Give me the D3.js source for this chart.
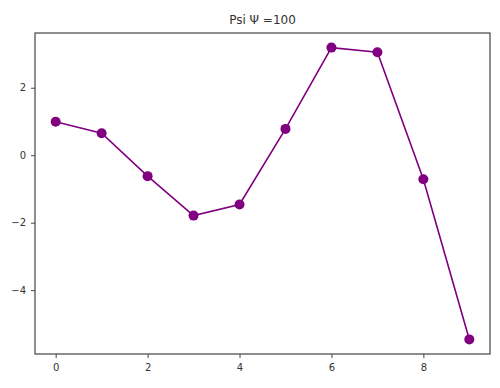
<!DOCTYPE html>
<html>
<head>
<meta charset="utf-8">
<script src="https://cdn.jsdelivr.net/npm/d3@7"></script>
<style>
  body { margin: 0; background: #fff; }
  svg text { font-family: "DejaVu Sans", sans-serif; fill: #333; }
</style>
</head>
<body>
<div id="chart"></div>
<script>
var xs = [0, 1, 2, 3, 4, 5, 6, 7, 8, 9];
var ys = [0.99, 0.65, -0.62, -1.79, -1.46, 0.78, 3.19, 3.05, -0.71, -5.46];
var xTicks = [0, 2, 4, 6, 8];
var yTicks = [-4, -2, 0, 2];
var title = "Psi \u03A8 =100";

var w = 500, h = 388;
var mLeft = 35, mRight = 490, mTop = 33, mBottom = 354;

var svg = d3.select("#chart").append("svg")
    .attr("width", w)
    .attr("height", h);

// matplotlib style 5% margins
var xext = d3.extent(xs), yext = d3.extent(ys);
var xpad = (xext[1] - xext[0]) * 0.05, ypad = (yext[1] - yext[0]) * 0.05;

var xscale = d3.scaleLinear()
    .domain([xext[0] - xpad, xext[1] + xpad])
    .range([mLeft, mRight]);
var yscale = d3.scaleLinear()
    .domain([yext[0] - ypad, yext[1] + ypad])
    .range([mBottom, mTop]);

var fmt = function (d) { return String(d).replace("-", "\u2212"); };

var xaxis = d3.axisBottom(xscale).tickValues(xTicks).tickFormat(fmt).tickSize(4).tickPadding(6);
var yaxis = d3.axisLeft(yscale).tickValues(yTicks).tickFormat(fmt).tickSize(4).tickPadding(5);

var gx = svg.append("g")
    .attr("transform", "translate(0," + mBottom + ")")
    .call(xaxis);
var gy = svg.append("g")
    .attr("transform", "translate(" + mLeft + ",0)")
    .call(yaxis);

[gx, gy].forEach(function (g) {
    g.select(".domain").remove();
    g.selectAll(".tick line").attr("stroke", "#444").attr("stroke-width", 1);
    g.selectAll(".tick text").attr("font-size", 10).attr("fill", "#333");
});

// frame
svg.append("rect")
    .attr("x", mLeft).attr("y", mTop)
    .attr("width", mRight - mLeft).attr("height", mBottom - mTop)
    .attr("fill", "none")
    .attr("stroke", "#444")
    .attr("stroke-width", 1.2);

var line = d3.line()
    .x(function (d, i) { return xscale(xs[i]); })
    .y(function (d) { return yscale(d); });

svg.append("path")
    .datum(ys)
    .attr("d", line)
    .attr("fill", "none")
    .attr("stroke", "purple")
    .attr("stroke-width", 1.6);

svg.selectAll("circle.pt")
    .data(ys)
    .enter().append("circle")
    .attr("class", "pt")
    .attr("cx", function (d, i) { return xscale(xs[i]); })
    .attr("cy", function (d) { return yscale(d); })
    .attr("r", 5)
    .attr("fill", "purple");

svg.append("text")
    .attr("x", (mLeft + mRight) / 2)
    .attr("y", mTop - 9)
    .attr("text-anchor", "middle")
    .attr("font-size", 12)
    .attr("fill", "#222")
    .text(title);
</script>
</body>
</html>
